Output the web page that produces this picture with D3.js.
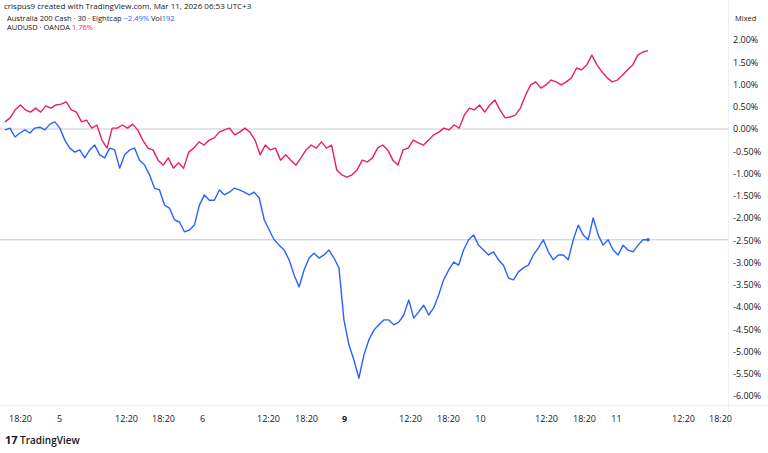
<!DOCTYPE html>
<html><head><meta charset="utf-8">
<script src="https://cdn.jsdelivr.net/npm/d3@7"></script>
<style>body{margin:0;background:#fff;font-family:"Open Sans",sans-serif}</style>
</head><body>
<svg id="chart" width="768" height="453"></svg>
<script>
// percent change series, one value per bar
var audusd = [0.16,0.25,0.43,0.54,0.43,0.38,0.47,0.38,0.52,0.47,0.54,0.56,0.61,0.43,0.38,0.16,0.20,0.02,0.09,-0.25,-0.43,0.02,0.02,0.09,0.02,0.11,-0.02,-0.25,-0.43,-0.47,-0.70,-0.81,-0.65,-0.88,-0.76,-0.88,-0.52,-0.43,-0.29,-0.36,-0.25,-0.20,-0.07,-0.02,0.02,-0.13,-0.07,0.02,-0.07,-0.25,-0.58,-0.36,-0.47,-0.43,-0.70,-0.58,-0.70,-0.81,-0.65,-0.47,-0.36,-0.43,-0.29,-0.43,-0.36,-0.92,-1.03,-1.08,-1.03,-0.92,-0.70,-0.74,-0.65,-0.43,-0.36,-0.47,-0.70,-0.81,-0.47,-0.43,-0.25,-0.31,-0.36,-0.25,-0.13,-0.07,0.02,-0.02,0.09,0.02,0.31,0.47,0.43,0.54,0.38,0.54,0.65,0.43,0.25,0.27,0.31,0.47,0.76,0.99,1.06,0.92,0.99,1.10,1.06,0.99,1.06,1.15,1.37,1.33,1.44,1.66,1.44,1.28,1.15,1.06,1.10,1.21,1.33,1.44,1.66,1.73,1.76];
var aus200 = [-0.02,0.02,-0.18,-0.09,-0.02,-0.09,0.02,0.04,-0.02,0.11,0.16,0.02,-0.25,-0.43,-0.52,-0.47,-0.65,-0.47,-0.36,-0.58,-0.65,-0.43,-0.47,-0.88,-0.58,-0.47,-0.43,-0.70,-0.81,-1.03,-1.33,-1.37,-1.71,-1.78,-2.04,-2.09,-2.31,-2.27,-2.16,-1.71,-1.48,-1.60,-1.60,-1.37,-1.48,-1.42,-1.33,-1.37,-1.42,-1.48,-1.42,-1.55,-2.04,-2.27,-2.49,-2.61,-2.72,-2.94,-3.28,-3.55,-3.17,-2.90,-2.79,-2.90,-2.83,-2.72,-2.90,-3.12,-4.29,-4.85,-5.19,-5.60,-5.08,-4.74,-4.52,-4.40,-4.29,-4.29,-4.40,-4.34,-4.18,-3.84,-4.25,-4.11,-3.96,-4.18,-4.02,-3.73,-3.39,-3.17,-2.99,-3.06,-2.72,-2.49,-2.38,-2.61,-2.72,-2.83,-2.76,-2.94,-3.06,-3.35,-3.39,-3.21,-3.12,-3.06,-2.83,-2.67,-2.49,-2.76,-2.94,-2.83,-2.83,-2.94,-2.49,-2.16,-2.38,-2.49,-2.00,-2.38,-2.61,-2.49,-2.72,-2.83,-2.61,-2.72,-2.76,-2.61,-2.49,-2.49];
var tickLabels = ["18:20","5","12:20","18:20","6","12:20","18:20","9","12:20","18:20","10","12:20","18:20","11","12:20","18:20"];
var tickBars = [4,11.8,25.2,32.6,40.4,53.6,61.2,68.8,82,89.6,96,109.2,116.8,123.2,136.6,144];
var yTicks = [2,1.5,1,0.5,0,-0.5,-1,-1.5,-2,-2.5,-3,-3.5,-4,-4.5,-5,-5.5,-6];
var firstBar = 1, lastBar = 129.6;

var svg = d3.select("#chart");
var x = d3.scaleLinear().domain([0, 145.6]).range([0, 728]);
var y = d3.scaleLinear().domain([2, -6]).range([40, 396]);

svg.append("rect").attr("x", 0).attr("y", 405).attr("width", 768).attr("height", 0.5).attr("fill", "#e0e3eb");
svg.append("rect").attr("x", 728).attr("y", 0).attr("width", 0.5).attr("height", 428).attr("fill", "#e0e3eb");

svg.append("line").attr("x1", 0).attr("x2", 728).attr("y1", y(0)).attr("y2", y(0))
    .attr("stroke", "#c8cad2").attr("stroke-width", 1);
svg.append("line").attr("x1", 0).attr("x2", 728).attr("y1", y(-2.49)).attr("y2", y(-2.49))
    .attr("stroke", "#b9c8ff").attr("stroke-width", 1);

function drawSeries(values, color) {
    var bx = d3.scaleLinear().domain([0, values.length - 1]).range([firstBar, lastBar]);
    var line = d3.line().x(function (d, i) { return x(bx(i)); }).y(function (d) { return y(d); });
    svg.append("path").datum(values).attr("d", line).attr("fill", "none")
        .attr("stroke", color).attr("stroke-width", 1.4).attr("stroke-linejoin", "round");
}
drawSeries(audusd, "#e91e63");
drawSeries(aus200, "#2962ff");
svg.append("circle").attr("cx", x(lastBar)).attr("cy", y(aus200[aus200.length - 1])).attr("r", 1.8).attr("fill", "#2962ff");

var yAxis = d3.axisRight(y).tickValues(yTicks).tickSize(0)
    .tickFormat(function (d) { return d.toFixed(2) + "%"; });
var gy = svg.append("g").attr("transform", "translate(733,0)").call(yAxis);
gy.select(".domain").remove();
gy.selectAll("text").attr("x", 0).attr("font-size", 9).attr("fill", "#131722").attr("font-family", "Open Sans");

var xAxis = d3.axisBottom(x).tickValues(tickBars).tickSize(0)
    .tickFormat(function (d, i) { return tickLabels[i]; });
var gx = svg.append("g").attr("transform", "translate(0,413)").call(xAxis);
gx.select(".domain").remove();
gx.selectAll("text").attr("font-size", 9).attr("fill", "#131722").attr("font-family", "Open Sans")
    .attr("font-weight", function (d, i) { return tickLabels[i] == "9" ? "bold" : "normal"; });

svg.append("text").attr("x", 4).attr("y", 9).attr("font-size", 8).attr("fill", "#131722")
    .text("crispus9 created with TradingView.com, Mar 11, 2026 06:53 UTC+3");
var l1 = svg.append("text").attr("x", 7).attr("y", 21).attr("font-size", 7.5).attr("fill", "#131722");
l1.append("tspan").text("Australia 200 Cash · 30 · Eightcap  ");
l1.append("tspan").attr("fill", "#2962ff").text("−2.49%");
l1.append("tspan").text("  Vol");
l1.append("tspan").attr("fill", "#2962ff").text("192");
var l2 = svg.append("text").attr("x", 7).attr("y", 30).attr("font-size", 7.5).attr("fill", "#131722");
l2.append("tspan").text("AUDUSD · OANDA  ");
l2.append("tspan").attr("fill", "#e91e63").text("1.76%");
svg.append("text").attr("x", 735).attr("y", 21).attr("font-size", 7.5).attr("fill", "#131722").text("Mixed");

svg.append("text").attr("x", 5).attr("y", 444).attr("font-size", 11).attr("font-weight", "bold")
    .attr("fill", "#131722").text("17");
svg.append("text").attr("x", 20).attr("y", 444).attr("font-size", 10).attr("font-weight", "600")
    .attr("fill", "#131722").text("TradingView");
</script>
</body></html>
